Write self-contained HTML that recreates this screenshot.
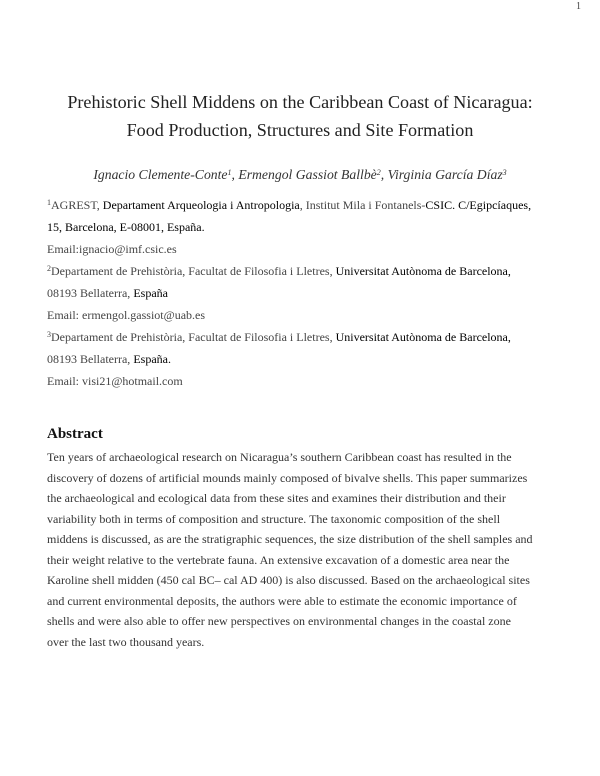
<!DOCTYPE html>
<html><head><meta charset="utf-8"><style>
html,body{margin:0;padding:0;background:#fff}
body{width:600px;height:776px;position:relative;overflow:hidden;font-family:"Liberation Serif",serif;color:#222}
.l{position:absolute;left:47px;white-space:nowrap;font-size:12px;line-height:16px;color:#444}
.k{color:#000}
.c{position:absolute;left:0;width:600px;text-align:center;white-space:nowrap}
sup{font-size:8px;vertical-align:4px;line-height:0}
</style></head><body>
<div style="position:absolute;left:576px;top:1px;font-size:10px;color:#444">1</div>
<div class="c" style="top:90px;font-size:18.1px;line-height:24px;color:#222">Prehistoric Shell Middens on the Caribbean Coast of Nicaragua:</div>
<div class="c" style="top:118px;font-size:18.1px;line-height:24px;color:#222">Food Production, Structures and Site Formation</div>
<div class="c" style="top:167px;font-size:13.7px;line-height:16px;font-style:italic;color:#333">Ignacio Clemente-Conte<sup>1</sup>, Ermengol Gassiot Ballbè<sup>2</sup>, Virginia García Díaz<sup>3</sup></div>

<div class="l" style="top:197px"><sup>1</sup>AGREST, <span class="k">Departament Arqueologia i Antropologia</span>, Institut Mila i Fontanels-<span class="k">CSIC. C/Egipcíaques,</span></div>
<div class="l k" style="top:219px">15, Barcelona, E-08001, España.</div>
<div class="l" style="top:241px">Email:ignacio@imf.csic.es</div>
<div class="l" style="top:263px"><sup>2</sup>Departament de Prehistòria, Facultat de Filosofia i Lletres, <span class="k">Universitat Autònoma de Barcelona,</span></div>
<div class="l" style="top:285px">08193 Bellaterra, <span class="k">España</span></div>
<div class="l" style="top:307px">Email: ermengol.gassiot@uab.es</div>
<div class="l" style="top:329px"><sup>3</sup>Departament de Prehistòria, Facultat de Filosofia i Lletres, <span class="k">Universitat Autònoma de Barcelona,</span></div>
<div class="l" style="top:351px">08193 Bellaterra, <span class="k">España.</span></div>
<div class="l" style="top:373px">Email: visi21@hotmail.com</div>

<div class="l" style="top:425px;font-size:15px;line-height:18px;font-weight:bold;color:#111">Abstract</div>
<div class="l" style="top:449px;color:#333">Ten years of archaeological research on Nicaragua’s southern Caribbean coast has resulted in the</div>
<div class="l" style="top:469.5px;color:#333">discovery of dozens of artificial mounds mainly composed of bivalve shells. This paper summarizes</div>
<div class="l" style="top:490px;color:#333">the archaeological and ecological data from these sites and examines their distribution and their</div>
<div class="l" style="top:510.5px;color:#333">variability both in terms of composition and structure. The taxonomic composition of the shell</div>
<div class="l" style="top:531px;color:#333">middens is discussed, as are the stratigraphic sequences, the size distribution of the shell samples and</div>
<div class="l" style="top:551.5px;color:#333">their weight relative to the vertebrate fauna. An extensive excavation of a domestic area near the</div>
<div class="l" style="top:572px;color:#333">Karoline shell midden (450 cal BC– cal AD 400) is also discussed. Based on the archaeological sites</div>
<div class="l" style="top:592.5px;color:#333">and current environmental deposits, the authors were able to estimate the economic importance of</div>
<div class="l" style="top:613px;color:#333">shells and were also able to offer new perspectives on environmental changes in the coastal zone</div>
<div class="l" style="top:633.5px;color:#333">over the last two thousand years.</div>
</body></html>
